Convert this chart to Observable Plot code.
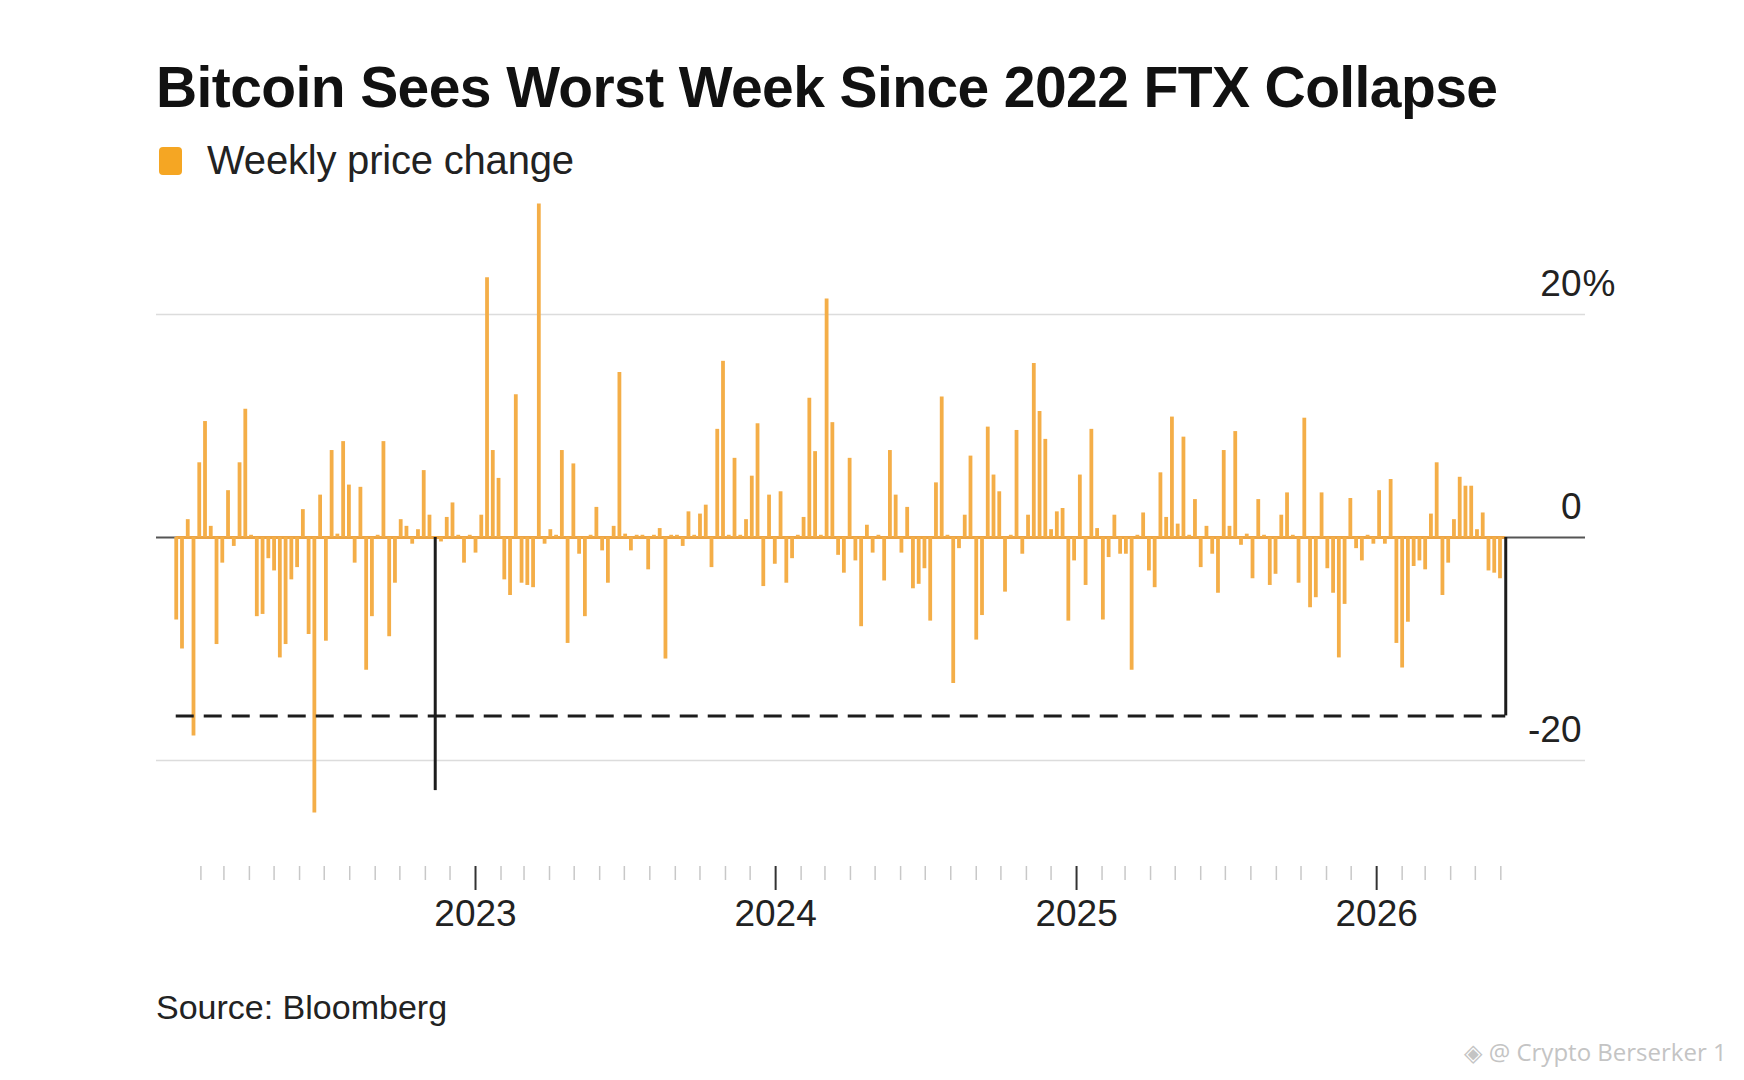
<!DOCTYPE html>
<html>
<head>
<meta charset="utf-8">
<script src="https://cdn.jsdelivr.net/npm/d3@7"></script>
<script src="https://cdn.jsdelivr.net/npm/@observablehq/plot@0.6"></script>
<style>
  html, body { margin: 0; padding: 0; background: #fff; }
  body { width: 1744px; height: 1080px; position: relative; overflow: hidden;
         font-family: "Liberation Sans", Arial, Helvetica, sans-serif; }
  #title { position: absolute; left: 156px; top: 59px; font-size: 57px; line-height: 57px;
           font-weight: bold; color: #111; letter-spacing: -0.6px; white-space: nowrap; }
  #swatch { position: absolute; left: 159px; top: 147px; width: 23px; height: 28px;
            border-radius: 4px; background: #f5a623; }
  #legendText { position: absolute; left: 207px; top: 140px; font-size: 40px; line-height: 40px;
                color: #222; white-space: nowrap; letter-spacing: -0.2px; }
  #chart { position: absolute; left: 0; top: 190px; }
  #source { position: absolute; left: 156px; top: 990px; font-size: 34px; line-height: 34px;
            color: #222; white-space: nowrap; }
  #mark { position: absolute; left: 1464px; top: 1040px; font-size: 24px; line-height: 24px;
          color: #c4c4c4; white-space: nowrap; font-family: "Open Sans", "DejaVu Sans", sans-serif; }
</style>
</head>
<body>
<div id="title">Bitcoin Sees Worst Week Since 2022 FTX Collapse</div>
<div id="swatch"></div>
<div id="legendText">Weekly price change</div>
<div id="chart"></div>
<div id="source">Source: Bloomberg</div>
<div id="mark">◈ @ Crypto Berserker 1</div>
<script>
// Weekly bitcoin price change (%), weeks ending on Sundays, first week ending 2022-01-02
const firstWeekEnding = "2022-01-02";

const values2022 = [-7.4, -10, 1.6, -17.8, 6.7, 10.4, 1, -9.6, -2.3, 4.2,
  -0.8, 6.7, 11.5, 0.2, -7.1, -6.9, -1.9, -3, -10.8, -9.6,
  -3.8, -2.7, 2.5, -8.7, -24.7, 3.8, -9.3, 7.8, 0.3, 8.6,
  4.7, -2.3, 4.5, -11.9, -7.1, 0.2, 8.6, -8.9, -4.1, 1.6,
  1.0, -0.6, 0.7, 6, 2, -22.7, -0.4, 1.8, 3.1, 0.2,
  -2.3, 0.2];
const values2023 = [-1.4, 2, 23.3, 7.8, 5.3, -3.8, -5.2, 12.8, -4.1, -4.3,
  -4.5, 29.9, -0.6, 0.7, 0.2, 7.8, -9.5, 6.6, -1.5, -7.1,
  0.2, 2.7, -1.2, -4.1, 1, 14.8, 0.3, -1.2, 0.2, 0.2,
  -2.9, 0.2, 0.8, -10.9, 0.2, 0.2, -0.8, 2.3, 0.2, 2.1,
  2.9, -2.7, 9.7, 15.8, 0.2, 7.1, 0.2, 1.6, 5.5, 10.2,
  -4.4, 3.8, -2.4];
const values2024 = [4.1, -4.1, -1.9, 0.2, 1.8, 12.5, 7.7, 0.2, 21.4, 10.3,
  -1.6, -3.2, 7.1, -2.1, -8, 1.1, -1.4, 0.2, -3.9, 7.8,
  3.8, -1.4, 2.7, -4.6, -4.2, -2.8, -7.5, 4.9, 12.6, 0.2,
  -13.1, -1, 2, 7.3, -9.2, -7, 9.9, 5.6, 4.1, -4.9,
  0.2, 9.6, -1.5, 2, 15.6, 11.3, 8.8, 0.7, 2.3, 2.6,
  -7.5, -2.1];
const values2025 = [5.6, -4.3, 9.7, 0.8, -7.4, -1.8, 2, -1.5, -1.5, -11.9,
  0.2, 2.2, -3, -4.5, 5.8, 1.8, 10.8, 1.2, 9, 0.2,
  3.4, -2.7, 1, -1.5, -5, 7.8, 1, 9.5, -0.7, 0.3,
  -3.7, 3.4, 0.2, -4.3, -3.3, 2, 4, 0.2, -4.1, 10.7,
  -6.3, -5.4, 4, -2.8, -5, -10.8, -6, 3.5, -1, -2.1,
  0.2, -0.6];
const values2026 = [4.2, -0.6, 5.2, -9.5, -11.7, -7.6, -2.6, -2.1, -2.9, 2.1,
  6.7, -5.2, -2.3, 1.6, 5.4, 4.6, 4.6, 0.7, 2.2, -3,
  -3.2, -3.7, -16];

const ftxWeekEnding = "2022-11-13";
const yLabels = [20, 0, -20];
const gridLines = [20, -20];
const yearTicks = ["2023-01-01", "2024-01-01", "2025-01-01", "2026-01-01"];
const xDomain = ["2021-12-09", "2026-09-12"];

const allValues = [...values2022, ...values2023, ...values2024, ...values2025, ...values2026];
const start = new Date(firstWeekEnding + "T00:00:00Z");
const data = allValues.map((v, i) => ({date: d3.utcDay.offset(start, 7 * i), value: v}));
const ftxTime = +new Date(ftxWeekEnding + "T00:00:00Z");
const first = data[0], last = data[data.length - 1];
const highlights = data.filter(d => +d.date === ftxTime || d === last);
const regular = data.filter(d => !highlights.includes(d));

const majorTicks = yearTicks.map(s => new Date(s + "T00:00:00Z"));
const minorTicks = d3.utcMonth.range(new Date("2022-02-01T00:00:00Z"), d3.utcMonth.offset(d3.utcMonth.floor(last.date), 1))
  .filter(d => d.getUTCMonth() !== 0);

const ORANGE = "#f4ae48";
const INK = "#1c1c1c";

const chart = Plot.plot({
  width: 1744,
  height: 770,
  marginLeft: 156,
  marginRight: 159,
  marginTop: 0,
  marginBottom: 94,
  style: {fontFamily: '"Liberation Sans", Arial, Helvetica, sans-serif', fontSize: "37px", color: "#222", background: "transparent"},
  x: {type: "utc", domain: xDomain.map(s => new Date(s + "T00:00:00Z")), axis: null},
  y: {domain: [-30, 30], range: [681.5, 12.5], axis: null},
  marks: [
    Plot.ruleY(gridLines, {stroke: "#dcdcdc", strokeWidth: 1.5}),
    Plot.ruleY([0], {stroke: "#555", strokeWidth: 2}),
    Plot.ruleY([{y: 0, x1: first.date, x2: last.date}], {y: "y", x1: "x1", x2: "x2", stroke: "#eba445", strokeWidth: 3}),
    Plot.ruleX(regular, {x: "date", y1: 0, y2: "value", stroke: ORANGE, strokeWidth: 3.8}),
    Plot.ruleY([{y: last.value, x1: first.date, x2: last.date}], {y: "y", x1: "x1", x2: "x2", stroke: INK, strokeWidth: 3, strokeDasharray: "18,10"}),
    Plot.ruleX(highlights, {x: "date", y1: 0, y2: "value", stroke: INK, strokeWidth: 3}),
    Plot.text(yLabels, {y: d => d, text: d => String(d), frameAnchor: "right", textAnchor: "end", dx: -4, dy: -30, fontSize: 37, fill: "#222"}),
    Plot.text([yLabels[0]], {y: d => d, text: () => "%", frameAnchor: "right", textAnchor: "start", dx: -3, dy: -30, fontSize: 37, fill: "#222"}),
    Plot.axisX(minorTicks, {anchor: "bottom", tickSize: 14, tickFormat: () => "", stroke: "#c8c8c8", strokeWidth: 1.5}),
    Plot.axisX(majorTicks, {anchor: "bottom", tickSize: 24, tickPadding: 9, tickFormat: d3.utcFormat("%Y"), stroke: "#333", fill: "#222", strokeWidth: 2, fontSize: 37})
  ]
});
document.getElementById("chart").appendChild(chart);
</script>
</body>
</html>
